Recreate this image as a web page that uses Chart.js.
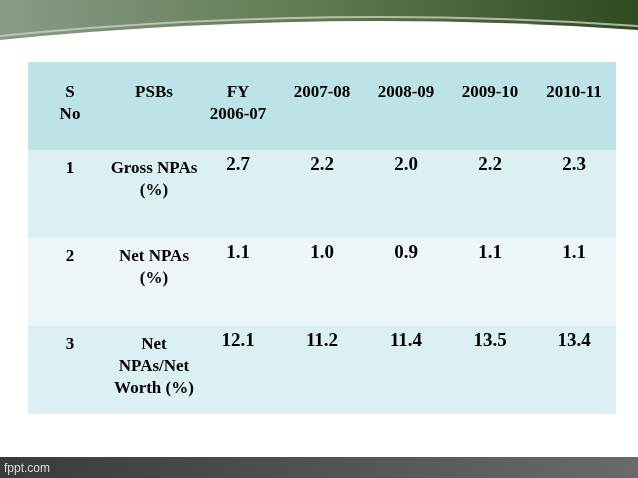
<!DOCTYPE html>
<html><head><meta charset="utf-8">
<script src="https://cdn.jsdelivr.net/npm/chart.js@4/dist/chart.umd.min.js"></script>
<style>html,body{margin:0;padding:0;background:#fff}#c{display:block}</style>
</head><body>
<canvas id="c" width="638" height="478"></canvas>
<script>
const headers = [["S","No"],["PSBs"],["FY","2006-07"],["2007-08"],["2008-09"],["2009-10"],["2010-11"]];
const rowNumbers = ["1","2","3"];
const rowLabels = [["Gross NPAs","(%)"],["Net NPAs","(%)"],["Net","NPAs/Net","Worth (%)"]];
const grossNPAs = [2.7,2.2,2.0,2.2,2.3];
const netNPAs = [1.1,1.0,0.9,1.1,1.1];
const netNPAsWorth = [12.1,11.2,11.4,13.5,13.4];
const rowKeys = ["header","r1","r2","r3"];
const rowColors = ["#bde3e6","#dcf0f3","#ecf6f8","#dcf0f3"];
const values = [grossNPAs, netNPAs, netNPAsWorth];

const bg = {
  id:'bg',
  beforeDraw(chart){
    const ctx = chart.ctx, W = chart.width, H = chart.height;
    ctx.save();
    ctx.fillStyle='#fff'; ctx.fillRect(0,0,W,H);
    let g = ctx.createLinearGradient(0,0,W,0);
    g.addColorStop(0,'#8a9a88'); g.addColorStop(0.5,'#5f7a4e'); g.addColorStop(1,'#2f4a1e');
    ctx.fillStyle=g; ctx.fillRect(0,0,W,50);
    ctx.fillStyle='#fff';
    ctx.beginPath(); ctx.moveTo(0,40); ctx.quadraticCurveTo(W*0.5,8,W,30); ctx.lineTo(W,52); ctx.lineTo(0,52); ctx.closePath(); ctx.fill();
    ctx.strokeStyle='rgba(200,210,200,0.8)'; ctx.lineWidth=2;
    ctx.beginPath(); ctx.moveTo(0,36); ctx.quadraticCurveTo(W*0.5,4,W,26); ctx.stroke();
    g = ctx.createLinearGradient(0,0,W,0);
    g.addColorStop(0,'#3a3a3a'); g.addColorStop(1,'#6a6a6a');
    ctx.fillStyle=g; ctx.fillRect(0,457,W,H-457);
    ctx.fillStyle='#ddd'; ctx.font='12px "Liberation Sans"'; ctx.textBaseline='alphabetic';
    ctx.fillText('fppt.com',4,472);
    ctx.restore();
  }
};
const txt = {
  id:'txt',
  afterDatasetsDraw(chart){
    const ctx = chart.ctx, xs = chart.scales.x, ys = chart.scales.y;
    const colW = (xs.getPixelForValue(1)-xs.getPixelForValue(0));
    const colX = i => xs.getPixelForValue(i+0.5);
    const rowTop = r => ys.getPixelForValue(r) - (ys.getPixelForValue(1)-ys.getPixelForValue(0))/2;
    ctx.save(); ctx.fillStyle='#000'; ctx.textAlign='center'; ctx.textBaseline='top';
    ctx.font='bold 17px "Liberation Serif"';
    headers.forEach((h,i)=>h.forEach((l,k)=>ctx.fillText(l,colX(i),rowTop(0)+22+k*22)));
    rowNumbers.forEach((n,r)=>{
      const t=rowTop(r+1)+10;
      ctx.font='bold 17px "Liberation Serif"';
      ctx.fillText(n,colX(0),t);
      rowLabels[r].forEach((l,k)=>ctx.fillText(l,colX(1),t+k*22));
      ctx.font='bold 19px "Liberation Serif"';
      values[r].forEach((v,j)=>ctx.fillText(v.toFixed(1),colX(j+2),t-4));
    });
    ctx.restore();
  }
};
new Chart(document.getElementById('c'),{
  type:'bar',
  data:{labels:rowKeys,datasets:[{data:rowKeys.map(()=>[0,headers.length]),backgroundColor:rowColors,barPercentage:1,categoryPercentage:1,borderWidth:0}]},
  options:{indexAxis:'y',responsive:false,animation:false,
    layout:{padding:{left:28,right:22,top:62,bottom:64}},
    plugins:{legend:{display:false},tooltip:{enabled:false}},
    scales:{x:{type:'linear',min:0,max:headers.length,display:false},y:{display:false}}},
  plugins:[bg,txt]
});
</script>
</body></html>
